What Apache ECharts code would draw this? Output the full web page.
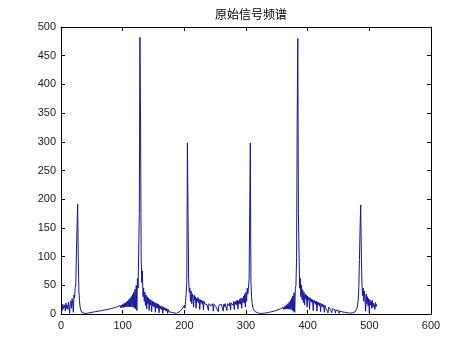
<!DOCTYPE html>
<html>
<head>
<meta charset="utf-8">
<script src="https://cdn.jsdelivr.net/npm/echarts@6/dist/echarts.min.js"></script>
<style>
html,body{margin:0;padding:0;background:#fff;}
#c{width:474px;height:354px;}
</style>
</head>
<body>
<div id="c"></div>
<script>
var titleText = '原始信号频谱';
var xTicks = [0, 100, 200, 300, 400, 500, 600];
var yTicks = [0, 50, 100, 150, 200, 250, 300, 350, 400, 450, 500];
// spectrum magnitude, sample index 1..512
var magnitude = [
  14, 6, 17, 9, 12, 16, 5, 19, 10, 15,
  8, 21, 12, 1, 18, 23, 10, 27, 19, 3,
  33, 28, 46, 52, 108, 150, 191, 95, 40, 22,
  12, 7, 4, 2.5, 1.8, 1.2, 1, 0.8, 0.9, 1.1,
  1.3, 1.6, 1.4, 2, 1.8, 2.4, 2.1, 2.8, 2.5, 3.1,
  2.8, 3.4, 3, 3.8, 3.3, 4.1, 3.6, 4.4, 3.9, 4.8,
  4.2, 5.1, 4.6, 5.5, 4.9, 6, 5.2, 6.4, 5.6, 6.8,
  5.9, 7.2, 6.3, 7.6, 6.6, 8.1, 7, 8.6, 7.3, 9.1,
  7.7, 9.6, 8.1, 10.2, 8.4, 10.8, 8.9, 11.5, 9.3, 12.2,
  9.7, 12.9, 10.1, 13.7, 10.4, 14.6, 10.8, 15.6, 11.2, 16.7,
  11.5, 18, 11.9, 19.4, 12.2, 21, 12.5, 22.8, 12.6, 25,
  12.8, 27.5, 12.7, 30.5, 12.5, 34, 11.8, 38, 10.5, 43,
  9, 50, 6, 62, 45, 108, 175, 482, 338, 98,
  55, 75, 30, 45, 22, 38, 15, 33, 9, 30,
  18, 28, 6, 26, 16, 24, 4, 23, 14, 21,
  12, 20, 3, 19, 11, 18, 10, 17, 2, 15,
  9, 14, 8, 13, 1, 12, 7, 11, 6, 10,
  5, 9, 1, 8, 4, 7, 3.5, 6, 3, 5,
  2.5, 4, 2, 3, 1.5, 2, 1, 1.5, 1, 2,
  2.5, 4, 3, 6, 4, 8, 5, 11, 7, 15,
  10, 22, 35, 55, 298, 175, 60, 38, 45, 22,
  40, 18, 35, 28, 12, 33, 24, 30, 10, 27,
  22, 29, 19, 26, 8, 25, 20, 24, 17, 23,
  7, 22, 18, 21, 15, 20, 16, 19, 6, 18,
  15, 19, 14, 17, 13, 18, 5, 17, 14, 16,
  13, 15, 12, 16, 4, 15, 13, 16, 12, 17,
  14, 16, 5, 17, 13, 18, 14, 17, 6, 18,
  15, 19, 14, 20, 7, 19, 16, 21, 15, 22,
  8, 21, 17, 23, 16, 24, 9, 23, 18, 26,
  17, 28, 10, 27, 20, 31, 19, 35, 12, 38,
  22, 45, 35, 45, 60, 172, 298, 55, 30, 18,
  12, 8, 6, 5, 4, 3.2, 2.6, 2.1, 1.7, 1.4,
  1.2, 1, 0.9, 0.8, 0.9, 1, 1.1, 1.3, 1.2, 1.5,
  1.4, 1.8, 1.6, 2.2, 1.9, 2.6, 2.3, 3, 2.7, 3.5,
  3.1, 4, 3.5, 4.6, 4, 5.2, 4.4, 5.9, 4.9, 6.6,
  5.4, 7.4, 5.9, 8.3, 6.4, 9.2, 6.9, 10.3, 7.4, 11.5,
  7.9, 12.8, 8.3, 14.3, 8.6, 16, 8.8, 18, 8.7, 20.5,
  8.4, 23.5, 7.8, 27, 6.5, 31.5, 4.8, 37, 3, 44,
  50, 98, 338, 480, 175, 108, 45, 62, 30, 50,
  25, 42, 20, 38, 16, 35, 26, 33, 12, 31,
  24, 29, 8, 28, 22, 26, 20, 25, 6, 24,
  19, 23, 17, 22, 5, 21, 16, 20, 14, 19,
  4, 18, 13, 17, 12, 16, 3, 15, 11, 14,
  10, 13, 2, 12, 9, 11, 8, 10, 2, 9,
  7, 8.5, 6.5, 8, 1.5, 7, 5.5, 6.5, 5, 6,
  1, 5, 4.5, 4.8, 4, 4.2, 3.5, 3.8, 3, 3.2,
  2.8, 2.6, 2.4, 2.2, 2, 1.8, 1.6, 1.5, 1.4, 1.3,
  1.5, 1.8, 2.2, 2, 2.8, 3.2, 4, 5, 7, 10,
  16, 25, 48, 95, 150, 190, 108, 52, 32,
  45, 22, 40, 28, 5, 35, 18, 30, 14, 27, 2,
  25, 16, 22, 10, 24, 12, 19, 15, 8, 20, 13, 17
];

var seriesData = magnitude.map(function (v, i) { return [i + 1, v]; });

var chart = echarts.init(document.getElementById('c'), null, {renderer: 'canvas'});
var axisLine = {show: true, onZero: false, lineStyle: {color: '#000', width: 1}};
var tickIn = {show: true, inside: true, length: 4, lineStyle: {color: '#000', width: 1}};
var labelFont = {fontFamily: 'Liberation Sans, Arial, sans-serif', fontSize: 11, color: '#222'};
chart.setOption({
  backgroundColor: '#fff',
  animation: false,
  title: {
    text: titleText,
    left: 246, top: 3, textAlign: 'center',
    textStyle: {fontFamily: 'Noto Sans CJK SC', fontSize: 12, fontWeight: 'normal', color: '#000'}
  },
  grid: {left: 61, right: 43, top: 27, bottom: 40, containLabel: false},
  xAxis: [{
    type: 'value', min: xTicks[0], max: xTicks[xTicks.length - 1], interval: 100,
    position: 'bottom',
    axisLine: axisLine, axisTick: tickIn, splitLine: {show: false},
    axisLabel: Object.assign({margin: 6}, labelFont)
  }, {
    type: 'value', min: xTicks[0], max: xTicks[xTicks.length - 1], interval: 100,
    position: 'top',
    axisLine: axisLine, axisTick: tickIn, splitLine: {show: false},
    axisLabel: {show: false}
  }],
  yAxis: [{
    type: 'value', min: yTicks[0], max: yTicks[yTicks.length - 1], interval: 50,
    position: 'left',
    axisLine: axisLine, axisTick: tickIn, splitLine: {show: false},
    axisLabel: Object.assign({margin: 5}, labelFont)
  }, {
    type: 'value', min: yTicks[0], max: yTicks[yTicks.length - 1], interval: 50,
    position: 'right',
    axisLine: axisLine, axisTick: tickIn, splitLine: {show: false},
    axisLabel: {show: false}
  }],
  series: [{
    type: 'line',
    data: seriesData,
    xAxisIndex: 0, yAxisIndex: 0,
    showSymbol: false,
    symbol: 'none',
    lineStyle: {color: '#1414a0', width: 1},
    silent: true
  }]
});
</script>
</body>
</html>
